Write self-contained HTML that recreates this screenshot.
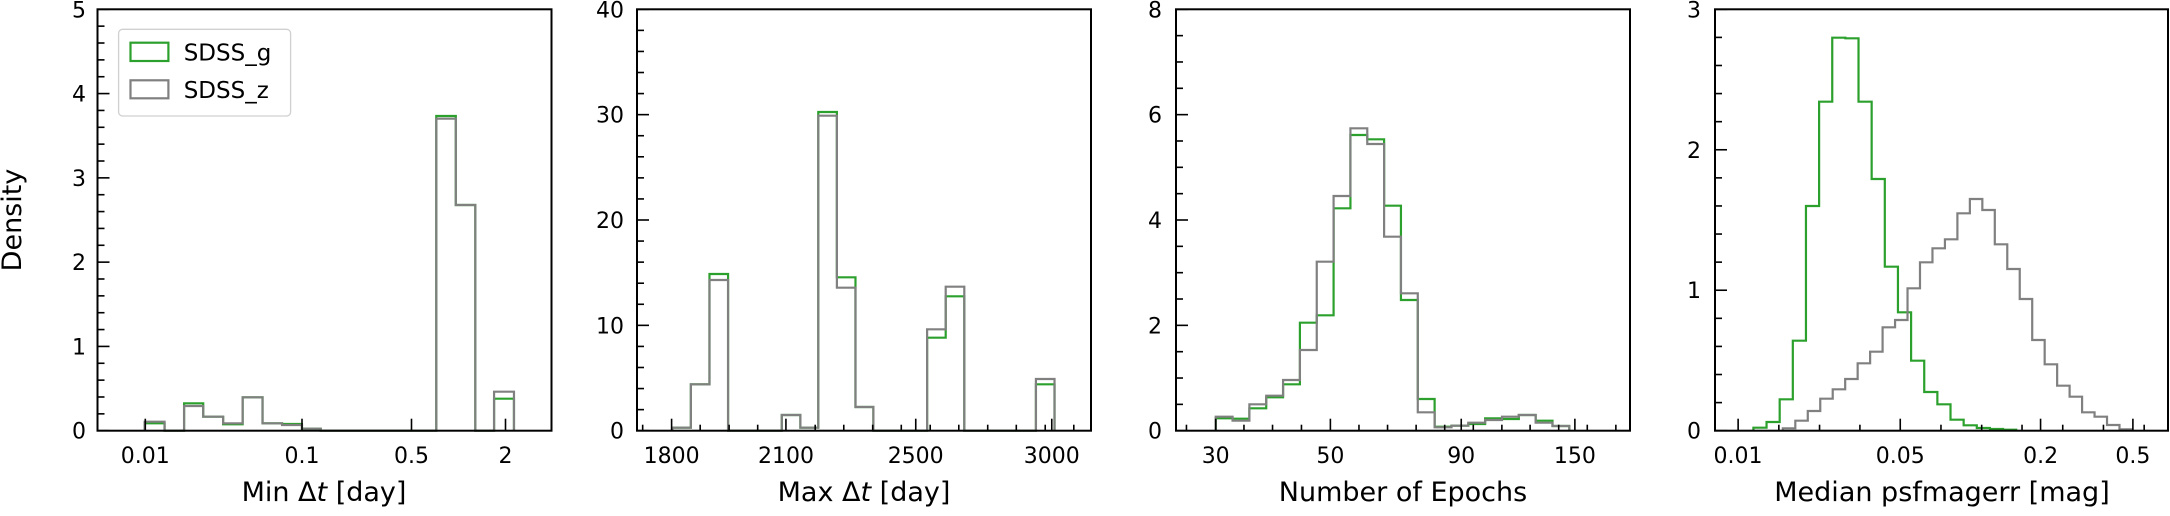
<!DOCTYPE html>
<html><head><meta charset="utf-8">
<style>
html,body{margin:0;padding:0;background:#fff;}
svg{display:block;}
text{font-family:"DejaVu Sans","Liberation Sans",sans-serif;fill:#000;}
.t{font-size:22px;}
.l{font-size:27px;}
</style></head>
<body>
<svg id="s" width="2170" height="516" viewBox="0 0 2170 516" xmlns="http://www.w3.org/2000/svg">
<g id="hist"></g>
<g id="ticks" stroke="#000" stroke-width="1.6"></g>
<g fill="none" stroke="#000" stroke-width="2">
<rect x="97.5" y="9.3" width="454" height="421.4"/>
<rect x="637" y="9.3" width="454" height="421.4"/>
<rect x="1176" y="9.3" width="454" height="421.4"/>
<rect x="1715" y="9.3" width="453" height="421.4"/>
</g>
<!-- legend -->
<rect x="118.6" y="29.3" width="172" height="86.7" rx="4" fill="#fff" fill-opacity="0.8" stroke="#d0d0d0" stroke-width="1.3"/>
<rect x="130.5" y="42.7" width="37.9" height="18.3" fill="none" stroke="#2ca02c" stroke-width="2.2"/>
<rect x="130.5" y="80.3" width="37.9" height="18" fill="none" stroke="#808080" stroke-width="2.2"/>
<text x="183.7" y="60.5" style="font-size:23px">SDSS_g</text>
<text x="183.7" y="98" style="font-size:23px">SDSS_z</text>
<!-- y tick labels -->
<g class="t" text-anchor="end">
<text x="86" y="438.7">0</text><text x="86" y="354.4">1</text><text x="86" y="270.1">2</text><text x="86" y="185.9">3</text><text x="86" y="101.6">4</text><text x="86" y="17.3">5</text>
<text x="624" y="438.7">0</text><text x="624" y="333.4">10</text><text x="624" y="228">20</text><text x="624" y="122.7">30</text><text x="624" y="17.3">40</text>
<text x="1162" y="438.7">0</text><text x="1162" y="333.4">2</text><text x="1162" y="228">4</text><text x="1162" y="122.7">6</text><text x="1162" y="17.3">8</text>
<text x="1701" y="438.7">0</text><text x="1701" y="298.2">1</text><text x="1701" y="157.8">2</text><text x="1701" y="17.3">3</text>
</g>
<!-- x tick labels -->
<g class="t" text-anchor="middle">
<text x="145.3" y="463">0.01</text><text x="302" y="463">0.1</text><text x="411.5" y="463">0.5</text><text x="505.5" y="463">2</text>
<text x="671.6" y="463">1800</text><text x="786" y="463">2100</text><text x="915.7" y="463">2500</text><text x="1051.8" y="463">3000</text>
<text x="1215.7" y="463">30</text><text x="1330.4" y="463">50</text><text x="1461.2" y="463">90</text><text x="1574.9" y="463">150</text>
<text x="1738" y="463">0.01</text><text x="1900.3" y="463">0.05</text><text x="2040.6" y="463">0.2</text><text x="2132.9" y="463">0.5</text>
</g>
<!-- axis labels -->
<g class="l" text-anchor="middle">
<text x="324" y="501">Min Δ<tspan font-style="italic">t</tspan> [day]</text>
<text x="864" y="501">Max Δ<tspan font-style="italic">t</tspan> [day]</text>
<text x="1403" y="501">Number of Epochs</text>
<text x="1942" y="501">Median psfmagerr [mag]</text>
<text transform="translate(21,220) rotate(-90)">Density</text>
</g>
</svg>
<script>
(function(){
var NS="http://www.w3.org/2000/svg";
var H=document.getElementById('hist'),T=document.getElementById('ticks');
var BASE=430.7;
function path(x0,f,edges,vals,color){
  var d="M"+(x0+edges[0]/f).toFixed(2)+" "+BASE;
  for(var i=0;i<vals.length;i++){
    var y=Math.min(vals[i]/3,BASE);
    d+=" V"+y.toFixed(2)+" H"+(x0+edges[i+1]/f).toFixed(2);
  }
  d+=" V"+BASE;
  var p=document.createElementNS(NS,'path');
  p.setAttribute('d',d);p.setAttribute('fill','none');p.setAttribute('stroke',color);
  p.setAttribute('stroke-width','2.2');p.setAttribute('stroke-linejoin','miter');
  H.appendChild(p);
}
function lin(a,step,n){var r=[];for(var i=0;i<=n;i++)r.push(a+step*i);return r;}
var G="#2ca02c",Z="#808080";
// panel1
var e1=[378,430,481,531,583,634,686,737,789,838,1140,1191,1242,1291,1343];
path(0,2.613,e1,[1270,1292,1210,1250,1273,1192,1270,1272,1286,1292,348,615,1292,1196],G);
path(0,2.613,e1,[1265,1292,1218,1250,1270,1192,1270,1275,1286,1292,356,615,1292,1175],Z);
// panel2
var e2=[268,322,376,430,586,640,692,746,800,852,1008,1062,1116,1324,1378];
path(580,2.904,e2,[1283,1153,822,1292,1245,1283,336,832,1221,1292,1013,889,1292,1153],G);
path(580,2.904,e2,[1283,1153,840,1292,1245,1283,347,863,1221,1292,988,860,1292,1137],Z);
// panel3
var e3=lin(307,48.9,21);
path(1110,2.904,e3,[1255,1256,1225,1192,1153,968,946,625,405,418,617,900,1197,1280,1277,1272,1255,1257,1245,1262,1278],G);
path(1110,2.904,e3,[1250,1262,1213,1187,1140,1050,785,588,385,432,710,880,1237,1282,1277,1268,1260,1250,1245,1268,1278],Z);
// panel4
path(1600,2.751,lin(422,36.15,20),[1283,1266,1198,1022,618,305,113,115,305,537,800,937,1082,1176,1213,1259,1276,1284,1287,1289],G);
path(1600,2.751,lin(503,34.3,28),[1285,1262,1233,1196,1168,1137,1090,1055,982,960,865,787,745,718,640,597,630,733,807,897,1020,1093,1157,1190,1237,1250,1275,1288],Z);
function line(x1,y1,x2,y2){var l=document.createElementNS(NS,'line');l.setAttribute('x1',x1);l.setAttribute('y1',y1);l.setAttribute('x2',x2);l.setAttribute('y2',y2);T.appendChild(l);}
// y ticks
function yt(x0,nMaj,sub){
  var step=421.4/nMaj;
  for(var i=0;i<=nMaj;i++){var y=BASE-step*i;line(x0,y,x0+12,y);
    if(i<nMaj)for(var j=1;j<sub;j++){var yy=y-step*j/sub;line(x0,yy,x0+7,yy);}}
}
yt(97.5,5,5);yt(637,4,5);yt(1176,4,4);yt(1715,3,5);
function xt(x0,f,maj,mn){
  maj.forEach(function(p){var x=x0+p/f;line(x,BASE,x,BASE-12);});
  mn.forEach(function(p){var x=x0+p/f;line(x,BASE,x,BASE-6);});
}
xt(0,1,[145.3,302,411.5,505.5],[]);
xt(580,2.904,[266,598,975,1370],[182,349,433,516,683,766,850,933,1017,1100,1184,1267,1351,1434]);
xt(1110,2.904,[307,640,1020,1350],[222,389,472,556,723,806,889,972,1055,1138,1220,1303,1386,1469]);
xt(1600,2.751,[380,826,1212,1466],[492,604,715,938,1050,1161,1273,1385,1497]);
})();
</script>
</body></html>
